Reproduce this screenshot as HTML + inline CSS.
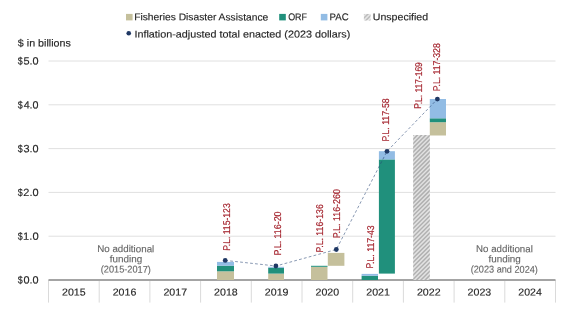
<!DOCTYPE html><html><head><meta charset="utf-8"><style>html,body{margin:0;padding:0;background:#fff;width:576px;height:310px;overflow:hidden}svg{display:block;will-change:transform;transform:translateZ(0)}text{font-family:"Liberation Sans", sans-serif;stroke-width:0.15px;paint-order:stroke}</style></head><body>
<svg width="576" height="310" viewBox="0 0 576 310">
<line x1="48.5" x2="555.5" y1="236.20" y2="236.20" stroke="#e0e0e0" stroke-width="1"/>
<line x1="48.5" x2="555.5" y1="192.40" y2="192.40" stroke="#e0e0e0" stroke-width="1"/>
<line x1="48.5" x2="555.5" y1="148.60" y2="148.60" stroke="#e0e0e0" stroke-width="1"/>
<line x1="48.5" x2="555.5" y1="104.80" y2="104.80" stroke="#e0e0e0" stroke-width="1"/>
<line x1="48.5" x2="555.5" y1="61.00" y2="61.00" stroke="#e0e0e0" stroke-width="1"/>
<line x1="48.50" x2="48.50" y1="280" y2="302.6" stroke="#dadada" stroke-width="1"/>
<line x1="99.20" x2="99.20" y1="280" y2="302.6" stroke="#dadada" stroke-width="1"/>
<line x1="149.90" x2="149.90" y1="280" y2="302.6" stroke="#dadada" stroke-width="1"/>
<line x1="200.60" x2="200.60" y1="280" y2="302.6" stroke="#dadada" stroke-width="1"/>
<line x1="251.30" x2="251.30" y1="280" y2="302.6" stroke="#dadada" stroke-width="1"/>
<line x1="302.00" x2="302.00" y1="280" y2="302.6" stroke="#dadada" stroke-width="1"/>
<line x1="352.70" x2="352.70" y1="280" y2="302.6" stroke="#dadada" stroke-width="1"/>
<line x1="403.40" x2="403.40" y1="280" y2="302.6" stroke="#dadada" stroke-width="1"/>
<line x1="454.10" x2="454.10" y1="280" y2="302.6" stroke="#dadada" stroke-width="1"/>
<line x1="504.80" x2="504.80" y1="280" y2="302.6" stroke="#dadada" stroke-width="1"/>
<line x1="555.50" x2="555.50" y1="280" y2="302.6" stroke="#dadada" stroke-width="1"/>
<line x1="48.5" x2="555.5" y1="280" y2="280" stroke="#a4a4a4" stroke-width="1.8"/>
<text x="17.80" y="283.60" font-size="10.50" fill="#262626" stroke="#262626" text-anchor="start" textLength="4.94" lengthAdjust="spacingAndGlyphs" transform="rotate(0.05 17.80 283.60)">$</text>
<text x="23.47" y="283.60" font-size="10.50" fill="#262626" stroke="#262626" text-anchor="start" textLength="15.15" lengthAdjust="spacingAndGlyphs" transform="rotate(0.05 23.47 283.60)">0.0</text>
<text x="17.80" y="239.80" font-size="10.50" fill="#262626" stroke="#262626" text-anchor="start" textLength="4.94" lengthAdjust="spacingAndGlyphs" transform="rotate(0.05 17.80 239.80)">$</text>
<text x="23.05" y="239.80" font-size="10.50" fill="#262626" stroke="#262626" text-anchor="start" textLength="15.59" lengthAdjust="spacingAndGlyphs" transform="rotate(0.05 23.05 239.80)">1.0</text>
<text x="17.80" y="196.00" font-size="10.50" fill="#262626" stroke="#262626" text-anchor="start" textLength="4.94" lengthAdjust="spacingAndGlyphs" transform="rotate(0.05 17.80 196.00)">$</text>
<text x="23.35" y="196.00" font-size="10.50" fill="#262626" stroke="#262626" text-anchor="start" textLength="15.28" lengthAdjust="spacingAndGlyphs" transform="rotate(0.05 23.35 196.00)">2.0</text>
<text x="17.80" y="152.20" font-size="10.50" fill="#262626" stroke="#262626" text-anchor="start" textLength="4.94" lengthAdjust="spacingAndGlyphs" transform="rotate(0.05 17.80 152.20)">$</text>
<text x="23.49" y="152.20" font-size="10.50" fill="#262626" stroke="#262626" text-anchor="start" textLength="15.14" lengthAdjust="spacingAndGlyphs" transform="rotate(0.05 23.49 152.20)">3.0</text>
<text x="17.80" y="108.40" font-size="10.50" fill="#262626" stroke="#262626" text-anchor="start" textLength="4.94" lengthAdjust="spacingAndGlyphs" transform="rotate(0.05 17.80 108.40)">$</text>
<text x="23.65" y="108.40" font-size="10.50" fill="#262626" stroke="#262626" text-anchor="start" textLength="14.97" lengthAdjust="spacingAndGlyphs" transform="rotate(0.05 23.65 108.40)">4.0</text>
<text x="17.80" y="64.60" font-size="10.50" fill="#262626" stroke="#262626" text-anchor="start" textLength="4.94" lengthAdjust="spacingAndGlyphs" transform="rotate(0.05 17.80 64.60)">$</text>
<text x="23.46" y="64.60" font-size="10.50" fill="#262626" stroke="#262626" text-anchor="start" textLength="15.16" lengthAdjust="spacingAndGlyphs" transform="rotate(0.05 23.46 64.60)">5.0</text>
<text x="17.88" y="46.40" font-size="10.30" fill="#262626" stroke="#262626" text-anchor="start" textLength="53.00" lengthAdjust="spacingAndGlyphs" transform="rotate(0.05 17.88 46.40)">$ in billions</text>
<text x="62.02" y="295.50" font-size="10.00" fill="#262626" stroke="#262626" text-anchor="start" textLength="23.58" lengthAdjust="spacingAndGlyphs" style="stroke-width:0.15px" transform="rotate(0.05 62.02 295.50)">2015</text>
<text x="112.72" y="295.50" font-size="10.00" fill="#262626" stroke="#262626" text-anchor="start" textLength="23.60" lengthAdjust="spacingAndGlyphs" style="stroke-width:0.15px" transform="rotate(0.05 112.72 295.50)">2016</text>
<text x="163.41" y="295.50" font-size="10.00" fill="#262626" stroke="#262626" text-anchor="start" textLength="23.67" lengthAdjust="spacingAndGlyphs" style="stroke-width:0.15px" transform="rotate(0.05 163.41 295.50)">2017</text>
<text x="214.12" y="295.50" font-size="10.00" fill="#262626" stroke="#262626" text-anchor="start" textLength="23.59" lengthAdjust="spacingAndGlyphs" style="stroke-width:0.15px" transform="rotate(0.05 214.12 295.50)">2018</text>
<text x="264.82" y="295.50" font-size="10.00" fill="#262626" stroke="#262626" text-anchor="start" textLength="23.64" lengthAdjust="spacingAndGlyphs" style="stroke-width:0.15px" transform="rotate(0.05 264.82 295.50)">2019</text>
<text x="315.52" y="295.50" font-size="10.00" fill="#262626" stroke="#262626" text-anchor="start" textLength="23.55" lengthAdjust="spacingAndGlyphs" style="stroke-width:0.15px" transform="rotate(0.05 315.52 295.50)">2020</text>
<text x="366.22" y="295.50" font-size="10.00" fill="#262626" stroke="#262626" text-anchor="start" textLength="23.65" lengthAdjust="spacingAndGlyphs" style="stroke-width:0.15px" transform="rotate(0.05 366.22 295.50)">2021</text>
<text x="416.91" y="295.50" font-size="10.00" fill="#262626" stroke="#262626" text-anchor="start" textLength="23.67" lengthAdjust="spacingAndGlyphs" style="stroke-width:0.15px" transform="rotate(0.05 416.91 295.50)">2022</text>
<text x="467.62" y="295.50" font-size="10.00" fill="#262626" stroke="#262626" text-anchor="start" textLength="23.60" lengthAdjust="spacingAndGlyphs" style="stroke-width:0.15px" transform="rotate(0.05 467.62 295.50)">2023</text>
<text x="518.32" y="295.50" font-size="10.00" fill="#262626" stroke="#262626" text-anchor="start" textLength="23.44" lengthAdjust="spacingAndGlyphs" style="stroke-width:0.15px" transform="rotate(0.05 518.32 295.50)">2024</text>
<rect x="126" y="13.9" width="6.6" height="6.5" fill="#c5c09c"/>
<text x="134.16" y="20.30" font-size="9.90" fill="#262626" stroke="#262626" text-anchor="start" textLength="134.09" lengthAdjust="spacingAndGlyphs" transform="rotate(0.05 134.16 20.30)">Fisheries Disaster Assistance</text>
<rect x="279.2" y="13.9" width="6.6" height="6.5" fill="#20907c"/>
<text x="288.18" y="20.30" font-size="9.90" fill="#262626" stroke="#262626" text-anchor="start" textLength="18.88" lengthAdjust="spacingAndGlyphs" transform="rotate(0.05 288.18 20.30)">ORF</text>
<rect x="320.8" y="13.9" width="6.6" height="6.5" fill="#92bce4"/>
<text x="329.54" y="20.30" font-size="9.90" fill="#262626" stroke="#262626" text-anchor="start" textLength="19.12" lengthAdjust="spacingAndGlyphs" transform="rotate(0.05 329.54 20.30)">PAC</text>
<clipPath id="hl"><rect x="363.90" y="13.90" width="6.60" height="6.50"/></clipPath>
<rect x="363.90" y="13.90" width="6.60" height="6.50" fill="#e6e6e6"/>
<path d="M355.40 22.40L365.90 11.90M359.64 22.40L370.14 11.90M363.89 22.40L374.39 11.90M368.13 22.40L378.63 11.90M372.37 22.40L382.87 11.90" stroke="#bcbcbc" stroke-width="1.50" clip-path="url(#hl)"/>
<text x="372.78" y="20.30" font-size="9.90" fill="#262626" stroke="#262626" text-anchor="start" textLength="55.40" lengthAdjust="spacingAndGlyphs" transform="rotate(0.05 372.78 20.30)">Unspecified</text>
<circle cx="128.75" cy="33.3" r="2.3" fill="#1f3864"/>
<text x="134.40" y="37.40" font-size="9.90" fill="#262626" stroke="#262626" text-anchor="start" textLength="215.97" lengthAdjust="spacingAndGlyphs" transform="rotate(0.05 134.40 37.40)">Inflation-adjusted total enacted (2023 dollars)</text>
<rect x="217.00" y="271.30" width="17.00" height="8.70" fill="#c5c09c"/>
<rect x="217.00" y="265.70" width="17.00" height="5.60" fill="#20907c"/>
<rect x="217.00" y="261.90" width="17.00" height="3.80" fill="#92bce4"/>
<rect x="268.20" y="273.60" width="15.80" height="6.40" fill="#c5c09c"/>
<rect x="268.20" y="267.80" width="15.80" height="5.80" fill="#20907c"/>
<rect x="268.20" y="266.80" width="15.80" height="1.00" fill="#92bce4"/>
<rect x="311.00" y="266.80" width="16.50" height="13.20" fill="#c5c09c"/>
<rect x="311.00" y="265.80" width="16.50" height="1.00" fill="#20907c"/>
<rect x="327.8" y="252.9" width="16.6" height="12.9" fill="#c5c09c"/>
<rect x="361.60" y="275.80" width="16.40" height="4.20" fill="#20907c"/>
<rect x="361.60" y="273.90" width="16.40" height="1.90" fill="#92bce4"/>
<rect x="378.9" y="159.4" width="16" height="114.20" fill="#20907c"/>
<rect x="378.9" y="151.2" width="16" height="8.2" fill="#92bce4"/>
<clipPath id="hb"><rect x="413.20" y="135.00" width="16.60" height="145.00"/></clipPath>
<rect x="413.20" y="135.00" width="16.60" height="145.00" fill="#e2e2e2"/>
<path d="M266.20 282.00L415.20 133.00M270.44 282.00L419.44 133.00M274.69 282.00L423.69 133.00M278.93 282.00L427.93 133.00M283.17 282.00L432.17 133.00M287.41 282.00L436.41 133.00M291.66 282.00L440.66 133.00M295.90 282.00L444.90 133.00M300.14 282.00L449.14 133.00M304.38 282.00L453.38 133.00M308.63 282.00L457.63 133.00M312.87 282.00L461.87 133.00M317.11 282.00L466.11 133.00M321.35 282.00L470.35 133.00M325.60 282.00L474.60 133.00M329.84 282.00L478.84 133.00M334.08 282.00L483.08 133.00M338.32 282.00L487.32 133.00M342.57 282.00L491.57 133.00M346.81 282.00L495.81 133.00M351.05 282.00L500.05 133.00M355.30 282.00L504.30 133.00M359.54 282.00L508.54 133.00M363.78 282.00L512.78 133.00M368.02 282.00L517.02 133.00M372.27 282.00L521.27 133.00M376.51 282.00L525.51 133.00M380.75 282.00L529.75 133.00M384.99 282.00L533.99 133.00M389.24 282.00L538.24 133.00M393.48 282.00L542.48 133.00M397.72 282.00L546.72 133.00M401.96 282.00L550.96 133.00M406.21 282.00L555.21 133.00M410.45 282.00L559.45 133.00M414.69 282.00L563.69 133.00M418.94 282.00L567.94 133.00M423.18 282.00L572.18 133.00M427.42 282.00L576.42 133.00M431.66 282.00L580.66 133.00" stroke="#b0b0b0" stroke-width="1.50" clip-path="url(#hb)"/>
<rect x="429.8" y="122.2" width="16.2" height="13.3" fill="#c5c09c"/>
<rect x="429.8" y="118.3" width="16.2" height="3.9" fill="#20907c"/>
<rect x="429.8" y="99.0" width="16.2" height="19.3" fill="#92bce4"/>
<polyline points="225.2,260.4 275.9,266.0 336.3,249.5 387.0,151.3 437.4,99.1" fill="none" stroke="#2a4675" stroke-width="0.7" stroke-opacity="0.8" stroke-dasharray="2.8 2.2"/>
<circle cx="225.20" cy="260.40" r="2.4" fill="#1f3864"/>
<circle cx="275.90" cy="266.00" r="2.4" fill="#1f3864"/>
<circle cx="336.30" cy="249.50" r="2.4" fill="#1f3864"/>
<circle cx="387.00" cy="151.30" r="2.4" fill="#1f3864"/>
<circle cx="437.40" cy="99.10" r="2.4" fill="#1f3864"/>
<text x="-0.68" y="0" font-size="9.90" fill="#a5252f" stroke="#a5252f" style="stroke-width:0.2px" textLength="47.55" lengthAdjust="spacingAndGlyphs" transform="translate(230.10 250.20) rotate(-89.97)">P.L. 115-123</text>
<text x="-0.70" y="0" font-size="9.90" fill="#a5252f" stroke="#a5252f" style="stroke-width:0.2px" textLength="44.03" lengthAdjust="spacingAndGlyphs" transform="translate(280.60 254.80) rotate(-89.97)">P.L. 116-20</text>
<text x="-0.69" y="0" font-size="9.90" fill="#a5252f" stroke="#a5252f" style="stroke-width:0.2px" textLength="48.26" lengthAdjust="spacingAndGlyphs" transform="translate(322.60 251.80) rotate(-89.97)">P.L. 116-136</text>
<text x="-0.70" y="0" font-size="9.90" fill="#a5252f" stroke="#a5252f" style="stroke-width:0.2px" textLength="49.04" lengthAdjust="spacingAndGlyphs" transform="translate(339.90 237.50) rotate(-89.97)">P.L. 116-260</text>
<text x="-0.69" y="0" font-size="9.90" fill="#a5252f" stroke="#a5252f" style="stroke-width:0.2px" textLength="43.25" lengthAdjust="spacingAndGlyphs" transform="translate(373.50 267.90) rotate(-89.97)">P.L. 117-43</text>
<text x="-0.68" y="0" font-size="9.90" fill="#a5252f" stroke="#a5252f" style="stroke-width:0.2px" textLength="43.15" lengthAdjust="spacingAndGlyphs" transform="translate(388.90 140.90) rotate(-89.97)">P.L. 117-58</text>
<text x="-0.67" y="0" font-size="9.90" fill="#a5252f" stroke="#a5252f" style="stroke-width:0.2px" textLength="46.65" lengthAdjust="spacingAndGlyphs" transform="translate(421.50 108.20) rotate(-89.97)">P.L. 117-169</text>
<text x="-0.69" y="0" font-size="9.90" fill="#a5252f" stroke="#a5252f" style="stroke-width:0.2px" textLength="47.95" lengthAdjust="spacingAndGlyphs" transform="translate(439.80 90.50) rotate(-89.97)">P.L. 117-328</text>
<text x="97.20" y="252.10" font-size="9.80" fill="#646464" stroke="#646464" text-anchor="start" textLength="57.06" lengthAdjust="spacingAndGlyphs" style="stroke-width:0.12px" transform="rotate(0.05 97.20 252.10)">No additional</text>
<text x="109.86" y="262.30" font-size="9.80" fill="#646464" stroke="#646464" text-anchor="start" textLength="32.38" lengthAdjust="spacingAndGlyphs" style="stroke-width:0.12px" transform="rotate(0.05 109.86 262.30)">funding</text>
<text x="100.73" y="272.60" font-size="9.80" fill="#646464" stroke="#646464" text-anchor="start" textLength="50.14" lengthAdjust="spacingAndGlyphs" style="stroke-width:0.12px" transform="rotate(0.05 100.73 272.60)">(2015-2017)</text>
<text x="476.10" y="252.10" font-size="9.80" fill="#646464" stroke="#646464" text-anchor="start" textLength="56.75" lengthAdjust="spacingAndGlyphs" style="stroke-width:0.12px" transform="rotate(0.05 476.10 252.10)">No additional</text>
<text x="488.46" y="262.30" font-size="9.80" fill="#646464" stroke="#646464" text-anchor="start" textLength="32.38" lengthAdjust="spacingAndGlyphs" style="stroke-width:0.12px" transform="rotate(0.05 488.46 262.30)">funding</text>
<text x="470.68" y="272.60" font-size="9.80" fill="#646464" stroke="#646464" text-anchor="start" textLength="67.19" lengthAdjust="spacingAndGlyphs" style="stroke-width:0.12px" transform="rotate(0.05 470.68 272.60)">(2023 and 2024)</text>
</svg></body></html>
